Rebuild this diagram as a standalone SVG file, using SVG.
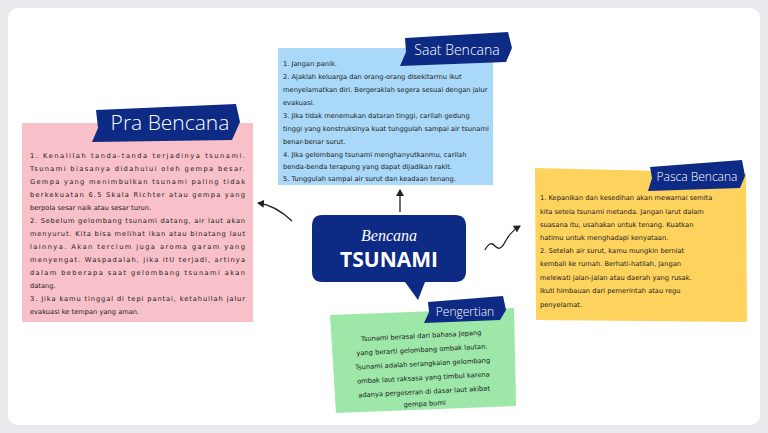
<svg xmlns="http://www.w3.org/2000/svg" width="768" height="433" viewBox="0 0 768 433">
<style>
.t{font-family:"DejaVu Sans",sans-serif;font-size:6.7px;fill:#222}
.lb{font-family:"Open Sans",sans-serif;fill:#fff;font-weight:300}
.brush{fill:#0d2a85}
.con{fill:none;stroke:#222;stroke-width:1.3}
</style>
<defs><marker id="ah" markerWidth="8" markerHeight="8" refX="6" refY="4" orient="auto" markerUnits="userSpaceOnUse"><path d="M0,0 L7,4 L0,8 Z" fill="#222"/></marker></defs>
<rect width="768" height="433" fill="#e9e9ee"/>
<rect x="8" y="8" width="752" height="417" rx="10" fill="#fff"/>
<g id="connectors">
<path class="con" d="M292,221 Q275,205 258,203" marker-end="url(#ah)"/>
<path class="con" d="M400,212 L400,190" marker-end="url(#ah)"/>
<path class="con" d="M485,250 q5,-10 10,-4 q5,6 10,-4 q5,-10 15,-16" marker-end="url(#ah)"/>
</g>
<g id="pra">
<rect x="22" y="123" width="231" height="199" fill="#f8c0c8"/>
<path class="brush" d="M96,110 L236,104 L240,122 L232,140 L92,142 L98,128 Z"/>
<text class="lb" x="170" y="130" font-size="21" text-anchor="middle">Pra Bencana</text>
<g class="t">
<text x="30" y="158" textLength="215" lengthAdjust="spacing">1.  Kenalilah  tanda-tanda  terjadinya  tsunami.</text>
<text x="30" y="171" textLength="215">Tsunami biasanya didahului oleh gempa besar.</text>
<text x="30" y="184" textLength="215">Gempa yang menimbulkan tsunami paling tidak</text>
<text x="30" y="197" textLength="215">berkekuatan 6.5 Skala Richter atau gempa yang</text>
<text x="30" y="210">berpola sesar naik atau sesar turun.</text>
<text x="30" y="223" textLength="215">2. Sebelum gelombang tsunami datang, air laut akan</text>
<text x="30" y="236" textLength="215">menyurut. Kita bisa melihat ikan atau binatang laut</text>
<text x="30" y="249" textLength="215">lainnya. Akan tercium juga aroma garam yang</text>
<text x="30" y="262" textLength="215">menyengat. Waspadalah, jika itU terjadi, artinya</text>
<text x="30" y="275" textLength="215">dalam beberapa saat gelombang tsunami akan</text>
<text x="30" y="288">datang.</text>
<text x="30" y="301" textLength="215">3. Jika kamu tinggal di tepi pantai, ketahuilah jalur</text>
<text x="30" y="314">evakuasi ke tempan yang aman.</text>
</g>
</g>
<g id="saat">
<rect x="278" y="48" width="215" height="137" fill="#a9d8f8"/>
<path class="brush" d="M405,38 L508,32 L512,48 L506,62 L400,66 L406,52 Z"/>
<text class="lb" x="457" y="55" font-size="14" text-anchor="middle">Saat Bencana</text>
<g class="t">
<text x="283" y="66">1. Jangan panik.</text>
<text x="283" y="79">2. Ajaklah keluarga dan orang-orang disekitarmu ikut</text>
<text x="283" y="92">menyelamatkan diri. Bergeraklah segera sesuai dengan jalur</text>
<text x="283" y="105">evakuasi.</text>
<text x="283" y="118">3. Jika tidak menemukan dataran tinggi, carilah gedung</text>
<text x="283" y="131">tinggi yang konstruksinya kuat tunggulah sampai air tsunami</text>
<text x="283" y="144">benar-benar surut.</text>
<text x="283" y="157">4. Jika gelombang tsunami menghanyutkanmu, carilah</text>
<text x="283" y="169">benda-benda terapung yang dapat dijadikan rakit.</text>
<text x="283" y="181">5.  Tunggulah sampai air surut dan keadaan tenang.</text>
</g>
</g>
<g id="pasca">
<path d="M535,168 L746,173 L747,322 L536,320 Z" fill="#fdd35e"/>
<path class="brush" d="M650,167 L742,160 L745,176 L740,188 L648,191 L652,178 Z"/>
<text class="lb" x="697" y="181" font-size="12" text-anchor="middle">Pasca Bencana</text>
<g class="t">
<text x="540" y="200">1. Kepanikan dan kesedihan akan mewarnai semita</text>
<text x="540" y="214">kita setela tsunami metanda. Jangan larut dalam</text>
<text x="540" y="227">suasana itu, usahakan untuk tenang. Kuatkan</text>
<text x="540" y="240">hatimu untuk menghadapi kenyataan.</text>
<text x="540" y="253">2. Setelah air surut, kamu mungkin berniat</text>
<text x="540" y="266">kembali ke rumah. Berhati-hatilah, jangan</text>
<text x="540" y="280">melewati jalan-jalan atau daerah yang rusak.</text>
<text x="540" y="293">Ikuti himbauan dari pemerintah atau regu</text>
<text x="540" y="307">penyelamat.</text>
</g>
</g>
<g id="center">
<path d="M322,215 L455,215 Q466,215 466,226 L466,271 Q466,282 455,282 L425,282 L418,300 L405,282 L322,282 Q312,282 312,271 L312,226 Q312,215 322,215 Z" fill="#0d2a85"/>
<text x="389" y="241" font-family="Liberation Serif,serif" font-style="italic" font-size="16" fill="#fff" text-anchor="middle">Bencana</text>
<text x="389" y="267" font-family="Open Sans,sans-serif" font-weight="bold" font-size="21" fill="#fff" text-anchor="middle">TSUNAMI</text>
</g>
<g id="pengertian">
<path d="M330,315 L514,308 L516,406 L336,413 Z" fill="#9de7a8"/>
<path class="brush" d="M428,302 L503,296 L506,310 L500,320 L424,323 L429,312 Z"/>
<text class="lb" x="465" y="316" font-size="12" text-anchor="middle">Pengertian</text>
<g class="t" text-anchor="middle" transform="rotate(-3 423 370)">
<text x="423" y="338">Tsunami berasal dari bahasa Jepang</text>
<text x="423" y="352">yang berarti gelombang ombak lautan.</text>
<text x="423" y="366">Tsunami adalah serangkaian gelombang</text>
<text x="423" y="380">ombak laut raksasa yang timbul karena</text>
<text x="423" y="394">adanya pergeseran di dasar laut akibat</text>
<text x="423" y="406">gempa bumi</text>
</g>
</g>
</svg>
